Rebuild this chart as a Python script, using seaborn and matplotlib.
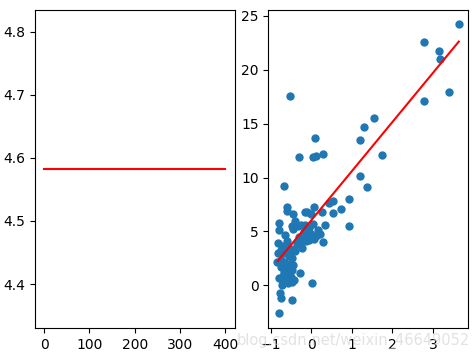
import numpy as np
import pandas as pd
import matplotlib
matplotlib.use("Agg")
import matplotlib.pyplot as plt
import seaborn as sns

# Left panel: constant prediction line
left_x = [0, 400]
left_y = [4.5825, 4.5825]

# Right panel: scatter data
scatter_x = [3.64, 2.79, 3.15, 3.17, 3.41, 2.79, -0.53, 1.54, 1.31, 1.21, 0.09, 1.75, -0.32, 0.05, 0.12,
             0.28, 1.21, 1.36, -0.69, 0.92, 0.52, 0.43, 0.72, 0.06, -0.61, -0.61, -0.45, -0.17, -0.10, 0.26,
             0.52, -0.02, -0.81, -0.80, -0.40, -0.48, -0.45, -0.34, -0.26, 0.34, 0.17, 0.92, -0.66, -0.18, 0.29,
             -0.82, -0.23, -0.82, -0.28, 0.02, -0.77, -0.75, -0.48, -0.80,
             -0.09, -0.02, 0.06, -0.06, -0.14, -0.26, -0.34, -0.73, -0.67, -0.59, -0.51, -0.59, -0.49, -0.75,
             -0.84, -0.67, -0.55, -0.75, -0.59, -0.48, -0.67, -0.80, -0.73, -0.63, -0.43, -0.51,
             -0.12, -0.05, 0.00, 0.10, -0.20, -0.35, -0.40, -0.60, -0.70, -0.55, -0.65, -0.70, -0.55, -0.45,
             -0.75, -0.30, 0.05, -0.15, 0.20, -0.58, -0.72, -0.48]
scatter_y = [24.2, 22.6, 21.7, 20.96, 17.94, 17.05, 17.6, 15.5, 14.7, 13.5, 13.7, 12.1, 11.9, 11.95, 12.0,
             12.16, 10.16, 9.1, 9.2, 8.03, 7.8, 7.66, 7.1, 7.3, 7.3, 6.93, 6.6, 6.77, 6.8, 6.8,
             6.7, 6.6, 5.75, 5.17, 5.94, 5.48, 5.23, 5.5, 5.63, 5.6, 5.17, 5.48, 4.68, 4.92, 4.06,
             3.9, 3.44, 2.98, 1.14, 0.21, -0.71, -1.14, -1.36, -2.6,
             4.62, 4.4, 4.3, 4.2, 4.15, 4.1, 4.0, 3.7, 3.54, 3.48, 3.35, 2.93, 2.56, 2.37,
             2.2, 2.15, 2.0, 1.69, 1.54, 1.45, 1.23, 0.71, 0.46, 0.46, 0.46, 0.77,
             5.0, 5.3, 4.8, 4.6, 4.4, 3.8, 3.2, 4.1, 3.0, 2.7, 1.9, 0.9, 1.0, 1.9,
             3.3, 4.5, 5.7, 5.6, 4.8, 0.2, 0.05, 0.3]

# Right panel: fitted regression line
fit_x = [-0.84, 3.64]
fit_y = [2.24, 22.6]

plt.rcParams['font.family'] = ['DejaVu Sans']

fig, axes = plt.subplots(1, 2, figsize=(4.74, 3.53), dpi=100)
fig.subplots_adjust(left=0.074, right=0.987, top=0.972, bottom=0.071, wspace=0.17)

ax1, ax2 = axes
sns.lineplot(x=left_x, y=left_y, ax=ax1, color='red', linewidth=1.5, estimator=None)
ax1.set_xticks([0, 100, 200, 300, 400])

sns.scatterplot(x=scatter_x, y=scatter_y, ax=ax2, color='#1f77b4', s=36, linewidth=0)
sns.lineplot(x=fit_x, y=fit_y, ax=ax2, color='red', linewidth=1.5, estimator=None)
ax2.set_xticks([-1, 0, 1, 2, 3])
ax2.set_yticks([0, 5, 10, 15, 20, 25])

fig.text(0.992, 0.012, "blog.csdn.net/weixin_46649052", ha='right', va='bottom',
         fontsize=10.5, color='#d0d0d0', alpha=0.6)

fig.savefig("out.png", dpi=100)
